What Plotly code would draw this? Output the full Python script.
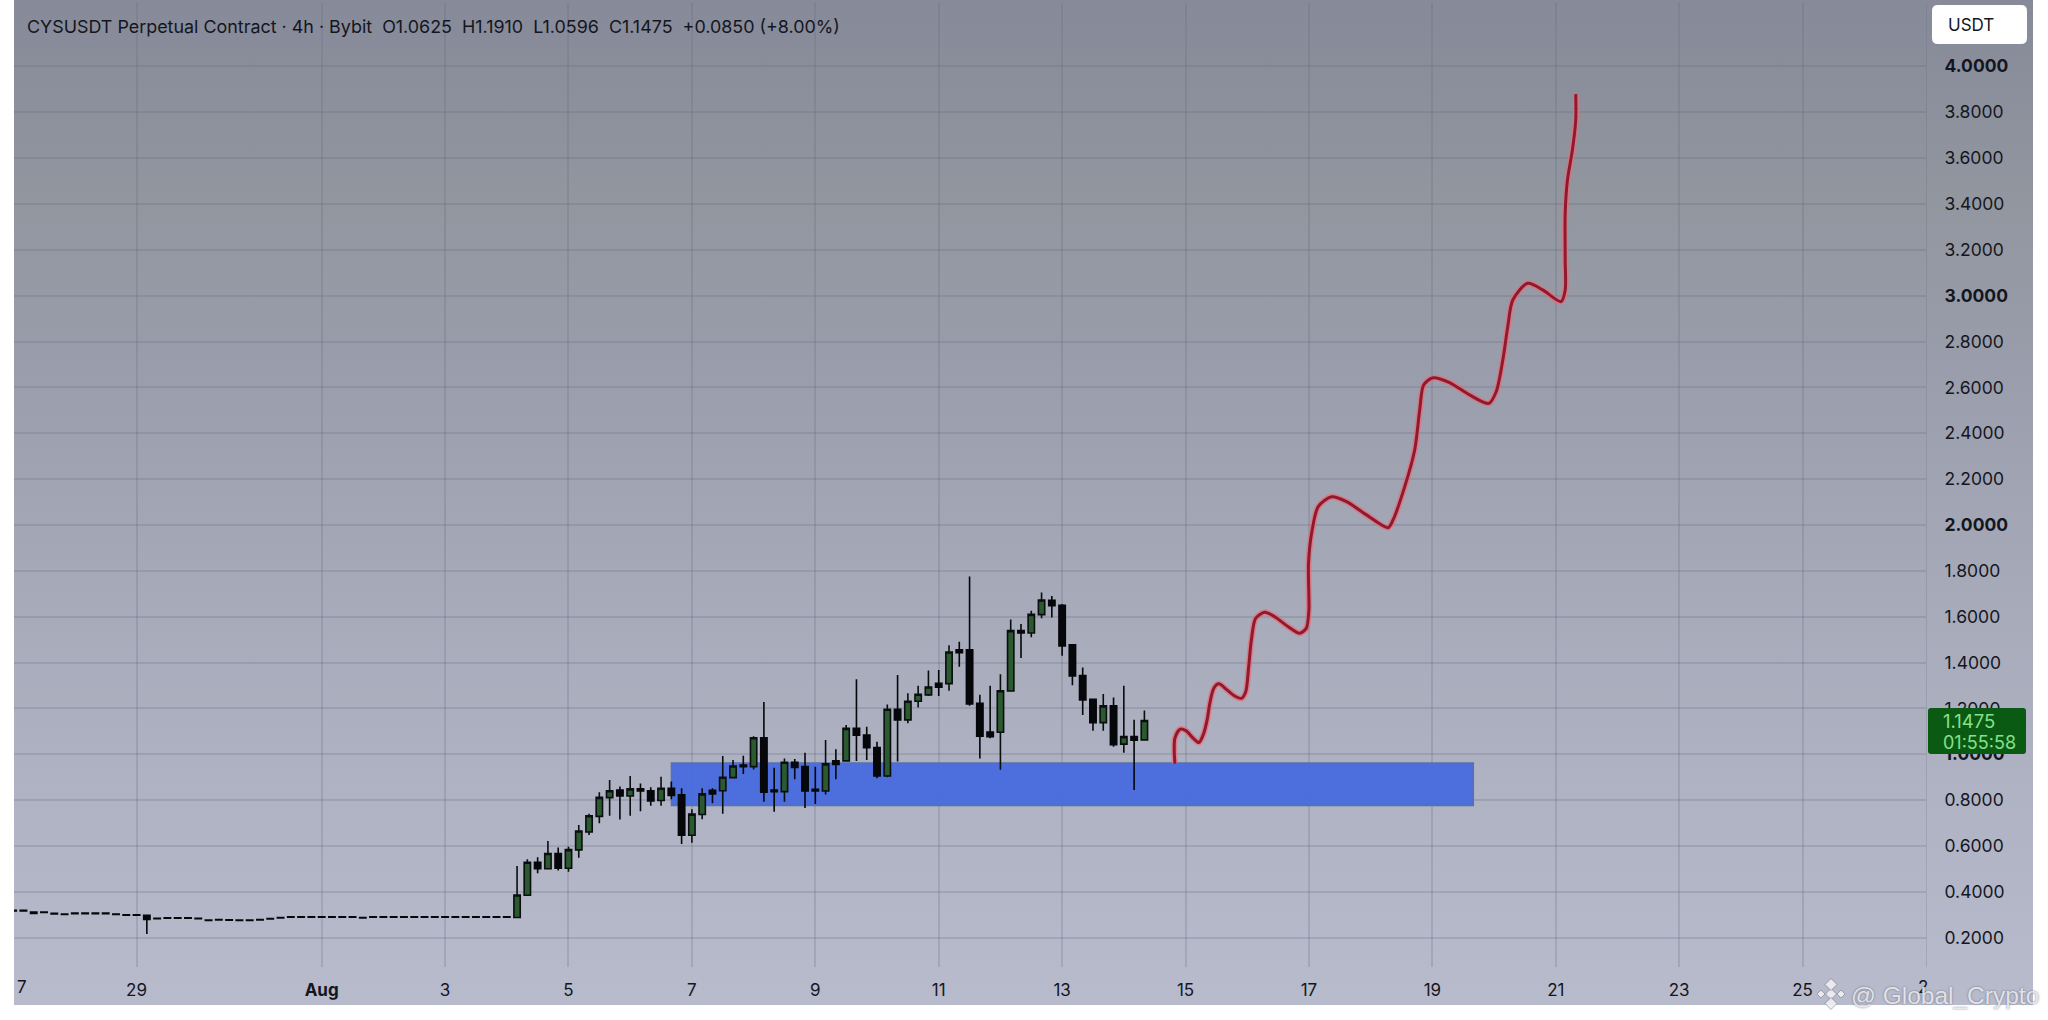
import pandas as pd
import plotly.graph_objects as go

# 4h candles
flat_open = [0.319, 0.319, 0.312, 0.312, 0.306, 0.303, 0.307, 0.307, 0.307, 0.307, 0.303, 0.300, 0.300,
             0.298, 0.285, 0.287, 0.287, 0.287, 0.285, 0.277, 0.279, 0.278, 0.277, 0.277, 0.279, 0.284,
             0.288, 0.291, 0.291, 0.291, 0.291, 0.291, 0.291, 0.291, 0.288, 0.291, 0.291, 0.291, 0.291,
             0.291, 0.291, 0.291, 0.291, 0.291, 0.291, 0.291, 0.291, 0.291, 0.291]
flat_close = [0.317, 0.317, 0.306, 0.310, 0.304, 0.301, 0.305, 0.305, 0.305, 0.305, 0.301, 0.298, 0.298,
              0.280, 0.283, 0.285, 0.285, 0.285, 0.283, 0.275, 0.277, 0.276, 0.275, 0.275, 0.277, 0.282,
              0.286, 0.289, 0.289, 0.289, 0.289, 0.289, 0.289, 0.289, 0.286, 0.289, 0.289, 0.289, 0.289,
              0.289, 0.289, 0.289, 0.289, 0.289, 0.289, 0.289, 0.289, 0.289, 0.289]
flat_high = flat_open
flat_low = [0.317, 0.317, 0.306, 0.310, 0.304, 0.301, 0.305, 0.305, 0.305, 0.305, 0.301, 0.298, 0.298,
            0.216, 0.283, 0.285, 0.285, 0.285, 0.283, 0.275, 0.277, 0.276, 0.275, 0.275, 0.277, 0.282,
            0.286, 0.289, 0.289, 0.289, 0.289, 0.289, 0.289, 0.289, 0.286, 0.289, 0.289, 0.289, 0.289,
            0.289, 0.289, 0.289, 0.289, 0.289, 0.289, 0.289, 0.289, 0.289, 0.289]

open_ = [0.288, 0.385, 0.529, 0.501, 0.567, 0.503, 0.583, 0.661, 0.729, 0.811, 0.844, 0.818, 0.849,
         0.841, 0.798, 0.852, 0.823, 0.647, 0.737, 0.843, 0.841, 0.898, 0.953, 0.946, 1.072, 0.844,
         0.837, 0.965, 0.946, 0.847, 0.840, 0.972, 0.971, 1.113, 1.084, 1.029, 0.905, 1.196, 1.150,
         1.231, 1.259, 1.309, 1.308, 1.456, 1.456, 1.222, 1.097, 1.096, 1.276, 1.540, 1.529, 1.609,
         1.671, 1.650, 1.477, 1.343, 1.240, 1.138, 1.211, 1.044, 1.077, 1.0625]
high = [0.513, 0.542, 0.551, 0.622, 0.593, 0.597, 0.692, 0.740, 0.834, 0.888, 0.859, 0.905, 0.873,
        0.856, 0.902, 0.881, 0.852, 0.760, 0.852, 0.852, 0.992, 0.975, 0.994, 1.079, 1.228, 0.941,
        0.982, 0.979, 1.007, 0.946, 1.062, 1.022, 1.128, 1.327, 1.120, 1.055, 1.217, 1.346, 1.266,
        1.299, 1.365, 1.367, 1.475, 1.491, 1.775, 1.259, 1.299, 1.349, 1.588, 1.568, 1.626, 1.705,
        1.690, 1.655, 1.481, 1.378, 1.243, 1.263, 1.248, 1.299, 1.150, 1.1910]
low = [0.285, 0.382, 0.481, 0.498, 0.493, 0.488, 0.549, 0.648, 0.699, 0.732, 0.716, 0.732, 0.751,
       0.775, 0.775, 0.804, 0.609, 0.614, 0.717, 0.786, 0.740, 0.895, 0.914, 0.934, 0.793, 0.749,
       0.793, 0.891, 0.766, 0.783, 0.825, 0.891, 0.968, 0.971, 0.975, 0.895, 0.900, 0.968, 1.135,
       1.204, 1.254, 1.254, 1.277, 1.382, 1.211, 0.982, 1.070, 0.932, 1.273, 1.420, 1.510, 1.593,
       1.596, 1.430, 1.301, 1.171, 1.102, 1.102, 1.033, 1.007, 0.844, 1.0596]
close = [0.386, 0.529, 0.501, 0.567, 0.503, 0.584, 0.665, 0.732, 0.812, 0.841, 0.818, 0.849, 0.840,
         0.796, 0.852, 0.820, 0.647, 0.739, 0.827, 0.827, 0.900, 0.949, 0.946, 1.072, 0.834, 0.837,
         0.965, 0.943, 0.840, 0.840, 0.958, 0.956, 1.113, 1.083, 1.029, 0.905, 1.196, 1.150, 1.231,
         1.262, 1.293, 1.292, 1.446, 1.443, 1.219, 1.079, 1.077, 1.277, 1.539, 1.529, 1.610, 1.673,
         1.648, 1.472, 1.341, 1.237, 1.138, 1.211, 1.042, 1.077, 1.061, 1.1475]

# dark and light halves of the drawn forecast line use the same points
red_time = ["2025-08-14 19:52", "2025-08-14 19:36", "2025-08-14 19:52", "2025-08-14 21:48", "2025-08-15 00:08",
            "2025-08-15 02:58", "2025-08-15 05:10", "2025-08-15 06:51", "2025-08-15 08:24", "2025-08-15 09:26",
            "2025-08-15 11:00", "2025-08-15 12:56", "2025-08-15 15:54", "2025-08-15 19:08", "2025-08-15 21:44",
            "2025-08-15 23:25", "2025-08-16 00:34", "2025-08-16 01:36", "2025-08-16 03:17", "2025-08-16 06:47",
            "2025-08-16 10:40", "2025-08-16 15:50", "2025-08-16 20:22", "2025-08-16 22:57", "2025-08-16 23:59",
            "2025-08-17 00:00", "2025-08-16 23:50", "2025-08-17 01:02", "2025-08-17 03:37", "2025-08-17 08:48",
            "2025-08-17 14:37", "2025-08-17 22:22", "2025-08-18 06:47", "2025-08-18 08:43", "2025-08-18 13:15",
            "2025-08-18 17:08", "2025-08-18 19:04", "2025-08-18 20:37", "2025-08-19 00:14", "2025-08-19 06:42",
            "2025-08-19 14:28", "2025-08-19 21:58", "2025-08-20 00:49", "2025-08-20 03:24", "2025-08-20 05:20",
            "2025-08-20 07:17", "2025-08-20 13:06", "2025-08-20 18:55", "2025-08-21 02:02", "2025-08-21 03:40",
            "2025-08-21 03:40", "2025-08-21 03:40", "2025-08-21 04:32", "2025-08-21 06:28", "2025-08-21 07:46",
            "2025-08-21 07:46"]
red_price = [0.958, 1.019, 1.070, 1.109, 1.103, 1.070, 1.051, 1.084, 1.150, 1.222,
             1.288, 1.307, 1.283, 1.254, 1.244, 1.273, 1.382, 1.498, 1.593, 1.619,
             1.600, 1.557, 1.528, 1.549, 1.629, 1.673, 1.833, 1.964, 2.080, 2.123,
             2.102, 2.044, 1.988, 2.022, 2.167, 2.327, 2.501, 2.610, 2.642, 2.621,
             2.567, 2.530, 2.581, 2.719, 2.865, 2.981, 3.054, 3.025, 2.974, 3.025,
             3.156, 3.359, 3.504, 3.635, 3.766, 3.879]

y_ticks = [0.2, 0.4, 0.6, 0.8, 1.0, 1.2, 1.4, 1.6, 1.8, 2.0, 2.2, 2.4, 2.6, 2.8, 3.0, 3.2, 3.4, 3.6, 3.8, 4.0]
y_labels = ["0.2000", "0.4000", "0.6000", "0.8000", "<b>1.0000</b>", "1.2000", "1.4000", "1.6000", "1.8000",
            "<b>2.0000</b>", "2.2000", "2.4000", "2.6000", "2.8000", "<b>3.0000</b>", "3.2000", "3.4000",
            "3.6000", "3.8000", "<b>4.0000</b>"]
x_ticks = ["2025-07-29", "2025-08-01", "2025-08-03", "2025-08-05", "2025-08-07", "2025-08-09", "2025-08-11",
           "2025-08-13", "2025-08-15", "2025-08-17", "2025-08-19", "2025-08-21", "2025-08-23", "2025-08-25"]
x_labels = ["29", "<b>Aug</b>", "3", "5", "7", "9", "11", "13", "15", "17", "19", "21", "23", "25"]

zone_start, zone_end = "2025-08-06 16:03", "2025-08-19 15:56"
zone_top, zone_bottom = 0.962, 0.776
last_price = 1.1475

bg_colors = ["#b7bbcc", "#afb3c3", "#a6aab9", "#9b9fae", "#92969f", "#868a99"]

W, H = 2048, 1020
FONT = "Inter"
TXT = "#14161e"


def px(x):
    return x / W


def py(y):
    return 1 - y / H


def round_box(x0, y0, x1, y1, r):
    # rounded rectangle in paper coordinates, given in page pixels
    pts = [("M", x0 + r, y0), ("L", x1 - r, y0), ("Q", x1, y0, x1, y0 + r), ("L", x1, y1 - r),
           ("Q", x1, y1, x1 - r, y1), ("L", x0 + r, y1), ("Q", x0, y1, x0, y1 - r), ("L", x0, y0 + r),
           ("Q", x0, y0, x0 + r, y0)]
    out = []
    for p in pts:
        nums = [px(v) if i % 2 == 0 else py(v) for i, v in enumerate(p[1:])]
        out.append(p[0] + " ".join(f"{n:.5f}" for n in nums))
    return " ".join(out) + " Z"


def diamond(cx, cy, r):
    return (f"M{px(cx - r):.5f} {py(cy):.5f} L{px(cx):.5f} {py(cy - r):.5f} "
            f"L{px(cx + r):.5f} {py(cy):.5f} L{px(cx):.5f} {py(cy + r):.5f} Z")


times = pd.date_range("2025-07-27 00:00", periods=len(flat_open) + len(open_), freq="4h")

fig = go.Figure()

# grey panel behind everything, gradient runs top to bottom
fig.add_trace(go.Scatter(x=[0, 1, 1, 0, 0], y=[0, 0, 1, 1, 0], mode="lines", fill="toself",
                         line=dict(width=0), hoverinfo="skip", showlegend=False,
                         fillgradient=dict(type="vertical",
                                           colorscale=[[i / (len(bg_colors) - 1), c] for i, c in enumerate(bg_colors)]),
                         xaxis="x", yaxis="y"))

fig.add_trace(go.Candlestick(x=times,
                             open=flat_open + open_, high=flat_high + high,
                             low=flat_low + low, close=flat_close + close,
                             increasing=dict(fillcolor="#2b5a30", line=dict(color="#0a0e0e", width=1.6)),
                             decreasing=dict(fillcolor="#05070a", line=dict(color="#05070a", width=1.6)),
                             whiskerwidth=0, hoverinfo="skip", showlegend=False,
                             xaxis="x2", yaxis="y2"))

fig.add_trace(go.Scatter(x=red_time, y=red_price, mode="lines",
                         line=dict(color="rgba(238,105,115,0.7)", width=6, shape="spline", smoothing=0.8),
                         hoverinfo="skip", showlegend=False, xaxis="x2", yaxis="y2"))
fig.add_trace(go.Scatter(x=red_time, y=red_price, mode="lines",
                         line=dict(color="#8f1a30", width=3, shape="spline", smoothing=0.8),
                         hoverinfo="skip", showlegend=False, xaxis="x2", yaxis="y2"))

shapes = [
    # demand zone
    dict(type="rect", xref="x2", yref="y2", x0=zone_start, x1=zone_end, y0=zone_bottom, y1=zone_top,
         fillcolor="rgba(72,108,222,0.95)", line=dict(color="#5a70a8", width=1.5), layer="between"),
    # last price line
    dict(type="line", xref="paper", yref="y2", x0=px(14), x1=px(1926), y0=last_price, y1=last_price,
         line=dict(color="#1f5a34", width=1.5, dash="2px 4px"), layer="between"),
    # USDT button
    dict(type="path", xref="paper", yref="paper", path=round_box(1932, 5, 2027, 44, 6),
         fillcolor="#ffffff", line=dict(width=0), layer="above"),
    # price tag
    dict(type="path", xref="paper", yref="paper", path=round_box(1928, 708, 2026, 754, 3),
         fillcolor="#0b5a14", line=dict(width=0), layer="above"),
]
# watermark logo
for cx, cy, r in [(1831, 994, 5.5), (1821, 994, 4), (1841, 994, 4), (1831, 984.5, 6), (1831, 1003.5, 6)]:
    shapes.append(dict(type="path", xref="paper", yref="paper", path=diamond(cx, cy, r),
                       fillcolor="rgba(238,238,243,0.9)", line=dict(color="rgba(90,92,105,0.45)", width=1),
                       layer="above"))

header = ("CYSUSDT Perpetual Contract · 4h · Bybit\u00a0\u00a0O1.0625\u00a0\u00a0H1.1910\u00a0\u00a0L1.0596"
          "\u00a0\u00a0C1.1475\u00a0\u00a0+0.0850 (+8.00%)")


def note(text, x, y, size, color=TXT, anchor="left", family=FONT, shadow="none"):
    return dict(text=text, xref="paper", yref="paper", x=px(x), y=py(y), xanchor=anchor, yanchor="middle",
                showarrow=False, font=dict(family=family, size=size, color=color, shadow=shadow))


annotations = [
    note(header, 25, 26, 17.9),
    note("USDT", 1946, 25, 17, "#15171f"),
    note("1.1475", 1941, 721, 18.5, "#86e08a"),
    note("01:55:58", 1941, 742, 18, "#86e08a"),
    note("7", 15, 987, 17),
    note("2", 1916, 987, 17),
    note("@ Global_Crypto", 1849, 995, 24.5, "rgba(240,240,245,0.9)", family="Liberation Sans",
         shadow="0px 0px 2px rgba(60,62,75,0.75)"),
]

grid = "rgba(95,100,118,0.22)"
fig.update_layout(
    width=W, height=H,
    margin=dict(l=0, r=0, t=0, b=0),
    paper_bgcolor="#ffffff",
    plot_bgcolor="rgba(0,0,0,0)",
    showlegend=False,
    boxgap=0.12,
    font=dict(family=FONT, size=17, color=TXT),
    shapes=shapes,
    annotations=annotations,
    # panel axes
    xaxis=dict(domain=[px(14), px(2033)], range=[0, 1], visible=False, fixedrange=True),
    yaxis=dict(domain=[py(1005), py(0)], range=[0, 1], visible=False, fixedrange=True),
    # chart axes, placed over the panel
    xaxis2=dict(domain=[px(14), px(1926)], anchor="y2", type="date",
                range=["2025-07-27 00:20", "2025-08-27 00:00"],
                tickmode="array", tickvals=x_ticks, ticktext=x_labels, ticks="", ticklabelstandoff=11,
                showgrid=True, gridcolor=grid, gridwidth=1.5, zeroline=False, showline=False,
                rangeslider=dict(visible=False), tickfont=dict(family=FONT, size=17, color=TXT)),
    yaxis2=dict(domain=[py(967), py(3)], anchor="x2", side="right",
                range=[0.0722, 4.2763],
                tickmode="array", tickvals=y_ticks, ticktext=y_labels, ticks="", ticklabelstandoff=14,
                showgrid=True, gridcolor=grid, gridwidth=1.5, zeroline=False,
                showline=True, linecolor=grid, linewidth=1,
                tickfont=dict(family=FONT, size=17.5, color=TXT)),
)

fig.write_html("out.html", config={"displayModeBar": False},
               post_script="document.body.style.margin='0';document.body.style.overflow='hidden';")
